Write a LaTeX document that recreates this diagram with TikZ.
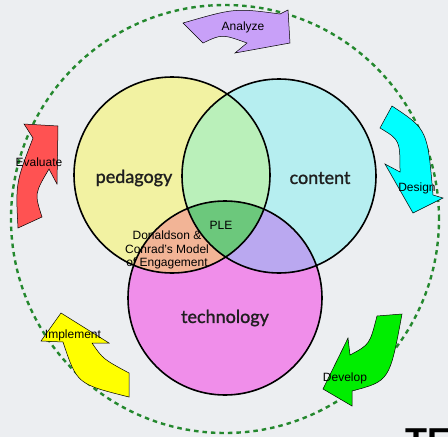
\documentclass[tikz,border=0pt]{standalone}
\usepackage{fontspec}
\setmainfont{Liberation Sans}
\newfontfamily\vennfont{Lato}[FakeBold=1.3]

\definecolor{bgcol}{RGB}{236,238,241}
\definecolor{cyclegreen}{RGB}{36,136,46}
\definecolor{pedcol}{RGB}{242,242,162}
\definecolor{concol}{RGB}{182,238,240}
\definecolor{teccol}{RGB}{240,142,234}
\definecolor{pedconcol}{RGB}{186,240,186}
\definecolor{pedteccol}{RGB}{242,180,150}
\definecolor{conteccol}{RGB}{186,168,240}
\definecolor{plecol}{RGB}{108,200,124}
\definecolor{analyzecol}{RGB}{200,160,248}
\definecolor{designcol}{RGB}{0,255,255}
\definecolor{developcol}{RGB}{0,238,0}
\definecolor{implementcol}{RGB}{255,255,0}
\definecolor{evaluatecol}{RGB}{255,82,82}

\begin{document}
\begin{tikzpicture}[
    x=1pt, y=-1pt,
    font=\fontsize{12}{13.5}\selectfont,
    venn/.style={
        draw=black,
        line width=1.6pt
    },
    cyclearrow/.style={
        draw=black,
        line width=0.5pt,
        line join=miter
    },
    stagelabel/.style={
        inner sep=0pt,
        text=black
    },
    bigword/.style={
        inner sep=0pt,
        font=\vennfont\fontsize{18}{18}\selectfont,
        text=black!88
    }
  ]
  \useasboundingbox (0,0) rectangle (448,437);
  \fill[bgcol] (0,0) rectangle (448,437);

  % the cycle round the diagram
  \coordinate (mid) at (225,219);
  \draw[cyclegreen, line width=2.4pt, dash pattern=on 4.5pt off 4pt] (mid) circle [radius=214pt];

  % the three circles
  \coordinate (ped) at (172,175);
  \coordinate (con) at (279,176);
  \coordinate (tec) at (225,298);

  \fill[pedcol] (ped) circle [radius=98pt];
  \fill[concol] (con) circle [radius=97pt];
  \fill[teccol] (tec) circle [radius=97pt];
  \begin{scope}
    \clip (ped) circle [radius=98pt];
    \fill[pedconcol] (con) circle [radius=97pt];
    \fill[pedteccol] (tec) circle [radius=97pt];
  \end{scope}
  \begin{scope}
    \clip (con) circle [radius=97pt];
    \fill[conteccol] (tec) circle [radius=97pt];
  \end{scope}
  \begin{scope}
    \clip (ped) circle [radius=98pt];
    \clip (con) circle [radius=97pt];
    \fill[plecol] (tec) circle [radius=97pt];
  \end{scope}
  \draw[venn] (ped) circle [radius=98pt];
  \draw[venn] (con) circle [radius=97pt];
  \draw[venn] (tec) circle [radius=97pt];

  \node[bigword] (pedagogy) at (134,178) {pedagogy};
  \node[bigword] (content) at (320,178) {content};
  \node[bigword] (technology) at (225,318) {technology};
  \node[stagelabel] (ple) at (221,225) {PLE};
  \node[stagelabel, align=center] (model) at (167,250)
    {Donaldson \&\\Conrad's Model\\of Engagement};

  % the block arrows of the cycle
  \draw[cyclearrow, fill=analyzecol] (183,23) .. controls (235,8) .. (280,14)
    -- (288,10) -- (290,43) -- (235,53) -- (247,43)
    .. controls (222,34) .. (203,43) -- cycle;
  \draw[cyclearrow, fill=designcol] (392,106) -- (380,128)
    .. controls (400,140) .. (400,172) -- (385,164) -- (413,213)
    -- (443,198) -- (433,195) .. controls (427.5,129.5) .. cycle;
  \draw[cyclearrow, fill=developcol] (377,316) -- (402,314)
    .. controls (389.6,381) .. (352,391) -- (352,406) -- (323,389)
    -- (348,338) -- (350,355) .. controls (369.7,344.5) .. cycle;
  \draw[cyclearrow, fill=implementcol] (61,313) -- (109,343) -- (92,343)
    .. controls (103,359) .. (129,373) -- (129,397)
    .. controls (77,384) .. (63,342) -- (41,341) -- cycle;
  \draw[cyclearrow, fill=evaluatecol] (24,124) -- (58,126)
    -- (57,184) -- (49,169) .. controls (34.5,193.6) .. (42,217)
    -- (18,228) .. controls (15.6,183.3) .. (33,138) -- cycle;

  \node[stagelabel] (analyze) at (243,27) {Analyze};
  \node[stagelabel] (design) at (417,188) {Design};
  \node[stagelabel] (develop) at (345,378) {Develop};
  \node[stagelabel] (implement) at (73,335) {Implement};
  \node[stagelabel] (evaluate) at (39,162) {Evaluate};

  % title, cut off at the foot of the page
  \node[inner sep=0pt, anchor=base west, font=\bfseries\fontsize{36}{36}\selectfont]
    (title) at (405,453) {TE};
\end{tikzpicture}
\end{document}
